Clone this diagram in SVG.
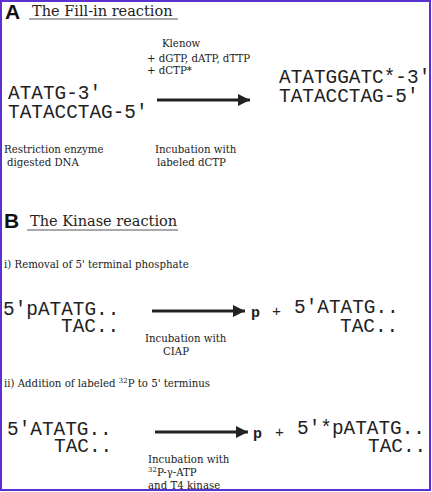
<svg xmlns="http://www.w3.org/2000/svg" width="432" height="492" viewBox="0 0 432 492">
<defs>
<style>
.hd{font-family:"Liberation Sans",Arial,sans-serif;font-weight:bold;font-size:21px;fill:#111}
.tt{font-family:"DejaVu Serif","Liberation Serif",serif;font-size:14.5px;fill:#222}
.sr{font-family:"DejaVu Serif","Liberation Serif",serif;font-size:10.2px;fill:#222}
.mo{font-family:"Liberation Mono","Courier New",monospace;font-size:19.4px;fill:#222}
.pb{font-family:"Liberation Mono","Courier New",monospace;font-size:15px;font-weight:bold;fill:#222}
.pl{font-family:"Liberation Mono","Courier New",monospace;font-size:15px;fill:#222}
.ar{stroke:#222;stroke-width:3;fill:none}
.ul{stroke:#555;stroke-width:1}
</style>
<marker id="ah" viewBox="0 0 10 10" refX="10" refY="5" markerWidth="6.5" markerHeight="4" markerUnits="strokeWidth" orient="auto">
<path d="M0,0 L10,5 L0,10 Z" fill="#222"/>
</marker>
</defs>
<rect x="1" y="1" width="429" height="489" fill="#fff" stroke="#5a30d0" stroke-width="2"/>

<g id="sectionA-title">
<text class="hd" x="5" y="19">A</text>
<text class="tt" x="32" y="16">The Fill-in reaction</text>
<line class="ul" x1="29" y1="19" x2="178" y2="19"/>
</g>

<g id="nodeA-substrate">
<text class="mo" x="8" y="99">ATATG-3'</text>
<text class="mo" x="8" y="118">TATACCTAG-5'</text>
<text class="sr" x="4" y="153">Restriction enzyme</text>
<text class="sr" x="7" y="166">digested DNA</text>
</g>

<g id="nodeA-product">
<text class="mo" x="279" y="83">ATATGGATC*-3'</text>
<text class="mo" x="279" y="102">TATACCTAG-5'</text>
</g>

<g id="labelA-reagents">
<text class="sr" x="162" y="47">Klenow</text>
<text class="sr" x="147" y="62">+ dGTP, dATP, dTTP</text>
<text class="sr" x="147" y="74">+ dCTP*</text>
<text class="sr" x="155" y="153">Incubation with</text>
<text class="sr" x="157" y="166">labeled dCTP</text>
</g>

<g id="sectionB-title">
<text class="hd" x="4" y="228">B</text>
<text class="tt" x="30" y="226">The Kinase reaction</text>
<line class="ul" x1="27" y1="230" x2="178" y2="230"/>
<text class="sr" x="4" y="268">i) Removal of 5' terminal phosphate</text>
<text class="sr" x="4" y="387">ii) Addition of labeled <tspan font-size="7" dy="-4">32</tspan><tspan dy="4">P to 5' terminus</tspan></text>
</g>

<g id="nodeB1-substrate">
<text class="mo" x="3" y="315">5'pATATG..</text>
<text class="mo" x="61" y="332">TAC..</text>
</g>

<g id="nodeB1-product">
<text class="pb" x="251" y="317">p</text>
<text class="pl" x="272" y="316">+</text>
<text class="mo" x="294" y="313">5'ATATG..</text>
<text class="mo" x="340" y="332">TAC..</text>
</g>

<g id="labelB1">
<text class="sr" x="145" y="342">Incubation with</text>
<text class="sr" x="163" y="355">CIAP</text>
</g>

<g id="nodeB2-substrate">
<text class="mo" x="7" y="435">5'ATATG..</text>
<text class="mo" x="54" y="452">TAC..</text>
</g>

<g id="nodeB2-product">
<text class="pb" x="253" y="438">p</text>
<text class="pl" x="275" y="437">+</text>
<text class="mo" x="297" y="434">5'*pATATG..</text>
<text class="mo" x="368" y="452">TAC..</text>
</g>

<g id="labelB2">
<text class="sr" x="148" y="463">Incubation with</text>
<text class="sr" x="148" y="476"><tspan font-size="7" dy="-4">32</tspan><tspan dy="4">P-γ-ATP</tspan></text>
<text class="sr" x="148" y="488.5">and T4 kinase</text>
</g>

<g id="connectors">
<line class="ar" x1="157" y1="100" x2="250" y2="100" marker-end="url(#ah)"/>
<line class="ar" x1="152" y1="311" x2="245" y2="311" marker-end="url(#ah)"/>
<line class="ar" x1="155" y1="432" x2="248" y2="432" marker-end="url(#ah)"/>
</g>
</svg>
